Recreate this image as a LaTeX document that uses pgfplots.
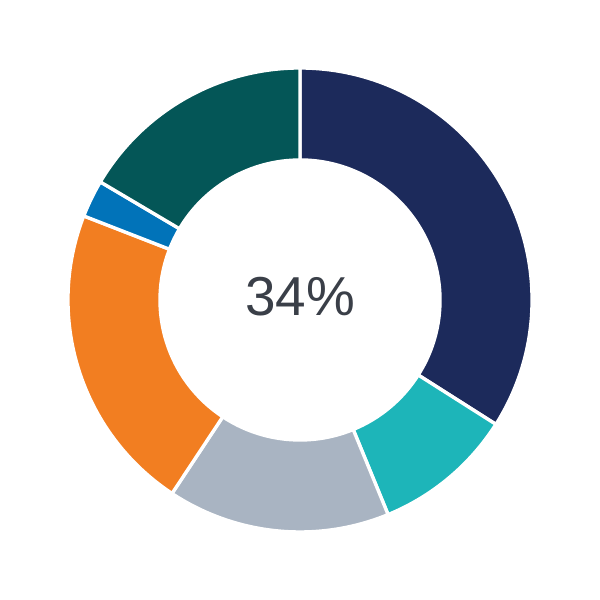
\documentclass[border=0pt]{standalone}
\usepackage{pgfplots}
\pgfplotsset{compat=1.18}
\usepackage{pgfplotstable}
\usepackage{fontspec}
\setmainfont{Liberation Sans}

\definecolor{cNavy}{HTML}{1C2A5B}
\definecolor{cTeal}{HTML}{1DB5B9}
\definecolor{cGray}{HTML}{A9B4C2}
\definecolor{cOrange}{HTML}{F27E21}
\definecolor{cBlue}{HTML}{0173B9}
\definecolor{cGreen}{HTML}{045657}
\definecolor{cText}{HTML}{3A3F48}

% shares in percent, clockwise from 12 o'clock
\pgfplotstableread{
share color
34.0 cNavy
9.8  cTeal
15.5 cGray
21.6 cOrange
2.6  cBlue
16.5 cGreen
}\shares

\begin{document}
\begin{tikzpicture}
\begin{axis}[
  x=0.0166667cm, y=0.0166667cm,
  xmin=-300, xmax=300, ymin=-300, ymax=300,
  scale only axis, hide axis, clip=false
]
% keep the full square as the picture's area
\path[fill=white] (axis cs:-300,-300) rectangle (axis cs:300,300);
\pgfplotstablegetrowsof{\shares}
\pgfmathtruncatemacro{\nrows}{\pgfplotsretval-1}
\gdef\cum{0}
\foreach \i in {0,...,\nrows}{
  \pgfplotstablegetelem{\i}{share}\of{\shares}\let\segval\pgfplotsretval
  \pgfplotstablegetelem{\i}{color}\of{\shares}\let\segcol\pgfplotsretval
  \pgfmathsetmacro{\aa}{90-3.6*\cum}
  \pgfmathsetmacro{\bb}{90-3.6*(\cum+\segval)}
  \pgfmathsetmacro{\newcum}{\cum+\segval}
  \xdef\cum{\newcum}
  \edef\tmp{\noexpand\fill[\segcol, draw=white, line width=1.6pt, line join=round]
    (axis cs:{232*cos(\aa)},{232*sin(\aa)})
    arc[start angle=\aa, end angle=\bb, radius=3.86667cm]
    -- (axis cs:{140*cos(\bb)},{140*sin(\bb)})
    arc[start angle=\bb, end angle=\aa, radius=2.33333cm] -- cycle;}
  \tmp
}
\node[text=cText, font=\fontsize{26}{30}\selectfont] at (axis cs:0,3) {34\%};
\end{axis}
\end{tikzpicture}
\end{document}
